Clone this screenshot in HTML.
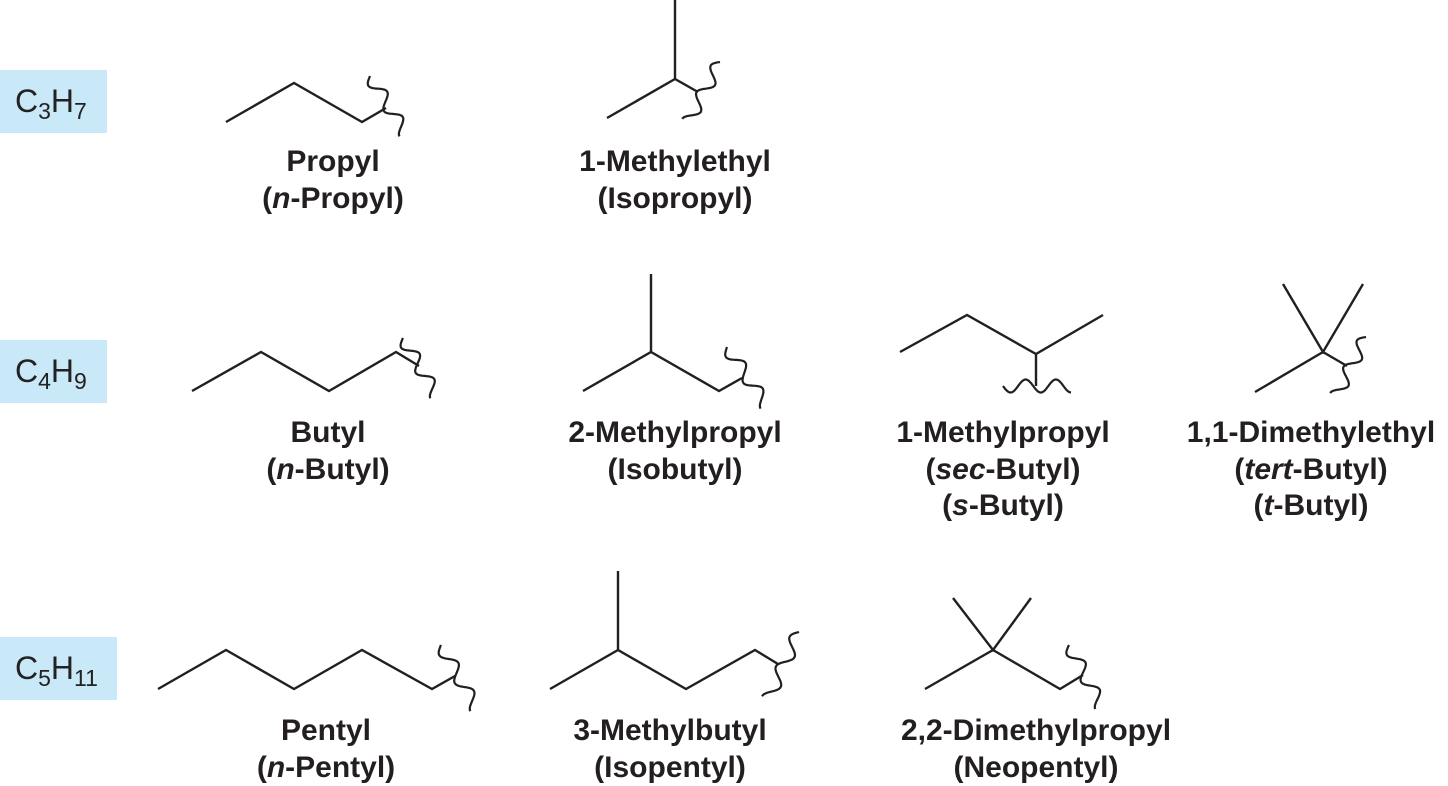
<!DOCTYPE html>
<html><head><meta charset="utf-8"><style>
html,body{margin:0;padding:0;background:#fff;}
body{width:1448px;height:785px;position:relative;overflow:hidden;font-family:"Liberation Sans",Arial,sans-serif;}
.box{position:absolute;left:0;background:#c9e8f8;height:63px;font-size:32px;color:#222;line-height:63px;padding-left:15px;box-sizing:border-box;}
.box sub{font-size:23px;vertical-align:-7px;line-height:0;}
.lab{position:absolute;font-weight:bold;font-size:30px;line-height:36.5px;text-align:center;color:#231f20;transform:translateX(-50%);white-space:nowrap;}
svg{position:absolute;left:0;top:0;}
</style></head><body>
<div class="box" style="top:70px;width:107px">C<sub>3</sub>H<sub>7</sub></div>
<div class="box" style="top:340px;width:107px">C<sub>4</sub>H<sub>9</sub></div>
<div class="box" style="top:637px;width:117px">C<sub>5</sub>H<sub>11</sub></div>

<svg width="1448" height="785" id="s" fill="none" stroke="#231f20" stroke-width="2.4" stroke-linejoin="miter">
<polyline points="226,122 294,83 362,122 386,108"/>
<polyline points="675,0 675,79"/>
<polyline points="607,118 675,79 698,92"/>
<polyline points="192,391 261,352 329,391 396,352 419,366"/>
<polyline points="651,274 651,352"/>
<polyline points="583,391 651,352 719,391 742,378"/>
<polyline points="900,352 967,315 1036,354 1103,315"/>
<polyline points="1036,354 1036,386"/>
<polyline points="1283,284 1323,352 1363,284"/>
<polyline points="1255,392 1323,352 1347,366"/>
<polyline points="158,689 226,650 294,689 362,650 432,689 455,676"/>
<polyline points="618,571 618,650"/>
<polyline points="550,689 618,650 686,689 755,650 778,664"/>
<polyline points="953,598 993,650 1031,598"/>
<polyline points="925,689 993,650 1060,689 1083,675"/>
</svg>

<div class="lab" style="left:333px;top:144px">Propyl<br>(<i>n</i>-Propyl)</div>
<div class="lab" style="left:675px;top:144px">1-Methylethyl<br>(Isopropyl)</div>
<div class="lab" style="left:328px;top:415px">Butyl<br>(<i>n</i>-Butyl)</div>
<div class="lab" style="left:675px;top:415px">2-Methylpropyl<br>(Isobutyl)</div>
<div class="lab" style="left:1003px;top:415px">1-Methylpropyl<br>(<i>sec</i>-Butyl)<br>(<i>s</i>-Butyl)</div>
<div class="lab" style="left:1311px;top:415px">1,1-Dimethylethyl<br>(<i>tert</i>-Butyl)<br>(<i>t</i>-Butyl)</div>
<div class="lab" style="left:326px;top:713px">Pentyl<br>(<i>n</i>-Pentyl)</div>
<div class="lab" style="left:670px;top:713px">3-Methylbutyl<br>(Isopentyl)</div>
<div class="lab" style="left:1036px;top:713px">2,2-Dimethylpropyl<br>(Neopentyl)</div>

<script>
var s=document.getElementById('s');
function wavy(x1,y1,x2,y2){
  var dx=x2-x1,dy=y2-y1,L=Math.sqrt(dx*dx+dy*dy),ux=dx/L,uy=dy/L,nx=-uy,ny=ux;
  var d='',N=100,per=2.25,a=6.5;
  for(var i=0;i<=N;i++){var t=i/N;var off=a*Math.sin(t*per*2*Math.PI);
    var x=x1+dx*t+nx*off,y=y1+dy*t+ny*off;d+=(i?'L':'M')+x.toFixed(1)+','+y.toFixed(1);}
  var p=document.createElementNS('http://www.w3.org/2000/svg','path');
  p.setAttribute('d',d);p.setAttribute('stroke-width','2.2');s.appendChild(p);
}
wavy(370,76,405,133);
wavy(720,62,688,122);
wavy(403,338,436,395);
wavy(727,347,766,405);
wavy(1003,386,1071,386);
wavy(1366,337,1336,396);
wavy(441,645,476,708);
wavy(799,632,768,699);
wavy(1069,645,1101,706);
</script>
</body></html>
